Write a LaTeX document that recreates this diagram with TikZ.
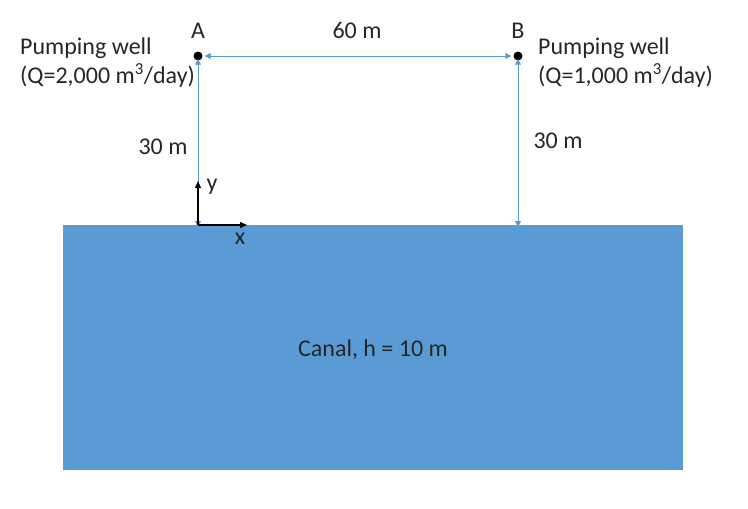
\documentclass[tikz,border=0pt]{standalone}
\usepackage{fontspec}
\setmainfont{Carlito}
\usetikzlibrary{arrows.meta}
\definecolor{canalblue}{HTML}{5B9BD5}
\definecolor{txt}{HTML}{262626}
\begin{document}
\begin{tikzpicture}[x=1pt,y=-1pt,
  lbl/.style={font=\fontsize{24}{29}\selectfont, text=txt, inner sep=0pt},
  dim/.style={canalblue, line width=0.9pt, {Triangle[width=6pt,length=6pt]}-{Triangle[width=6pt,length=6pt]}},
  axis/.style={black, line width=1.3pt, -{Triangle[width=6pt,length=7pt]}},
  well/.style={circle, fill=black, inner sep=0pt, minimum size=9pt}]
\useasboundingbox (0,0) rectangle (748,509);
\fill[canalblue] (63,225) rectangle (683,470);
\node[well] (A) at (198,56) {};
\node[well] (B) at (518,56) {};
\coordinate (A0) at (198,225);
\coordinate (B0) at (518,225);
\node[lbl] at (198,31) {A};
\node[lbl] at (518,31) {B};
\node[lbl] (d60) at (357,30) {60 m};
\draw[dim] ([xshift=2pt]A.east) -- ([xshift=-2pt]B.west);
\draw[dim] ([yshift=2pt]A.south) -- ([yshift=-2pt]A0);
\draw[dim] ([yshift=2pt]B.south) -- ([yshift=-2pt]B0);
\node[lbl] at (163,147) {30 m};
\node[lbl] at (558,141) {30 m};
\node[lbl, anchor=west, align=left] at (20,63) {Pumping well\\(Q=2,000 m\textsuperscript{3}/day)};
\node[lbl, anchor=west, align=left] at (538,63) {Pumping well\\(Q=1,000 m\textsuperscript{3}/day)};
\coordinate (ytip) at (198,181);
\coordinate (xtip) at (247,225);
\draw[axis] (A0) -- (ytip);
\draw[axis] (A0) -- (xtip);
\node[lbl] at (212,187) {y};
\node[lbl] at (240,239) {x};
\node[lbl] at (373,350) {Canal, h = 10 m};
\end{tikzpicture}
\end{document}
